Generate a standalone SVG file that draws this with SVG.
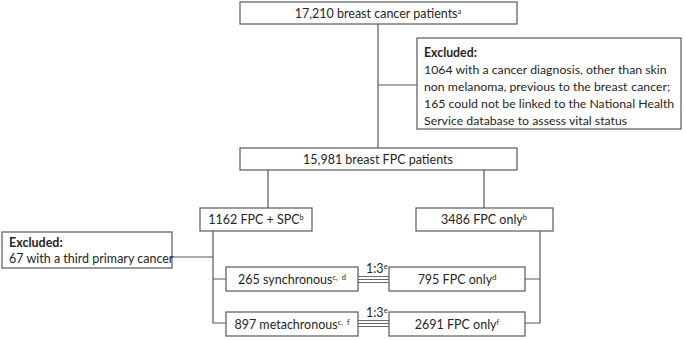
<svg xmlns="http://www.w3.org/2000/svg" width="685" height="340" viewBox="0 0 685 340">
<style>
.box{fill:#fff;stroke:#595959;stroke-width:1.2}
.ln{fill:none;stroke:#595959;stroke-width:1.2}
.dl{fill:none;stroke:#6a6a6a;stroke-width:1}
text{font-family:Lato,"Liberation Sans",sans-serif;font-size:12.5px;fill:#262626}
.c{text-anchor:middle}
.b{font-weight:bold}
.sup{font-size:7.5px}
.ex text{font-size:12.3px}
</style>
<rect width="685" height="340" fill="#fff"/>
<g id="connectors">
<path class="ln" d="M378,24V148M378,85H417"/>
<path class="ln" d="M268,170V208M484,170V208"/>
<path class="ln" d="M213,231V323H226M213,279H226M172,257H213"/>
<path class="ln" d="M540,231V323H525M540,279H525"/>
<path class="dl" d="M358,276.5H389M358,279.5H389M358,282.5H389"/>
<path class="dl" d="M358,320.5H389M358,323.5H389M358,326.5H389"/>
<text x="366" y="273">1:3<tspan class="sup" dy="-4">e</tspan></text>
<text x="366" y="317">1:3<tspan class="sup" dy="-4">e</tspan></text>
</g>
<g id="n1">
<rect class="box" x="240" y="2" width="277" height="22"/>
<text class="c" x="378" y="17.5">17,210 breast cancer patients<tspan class="sup" dy="-4">a</tspan></text>
</g>
<g id="excl1" class="ex">
<rect class="box" x="417" y="38" width="264" height="91"/>
<text x="424" y="56.5" class="b">Excluded:</text>
<text x="424" y="74">1064 with a cancer diagnosis, other than skin</text>
<text x="424" y="91">non melanoma, previous to the breast<tspan dx="4">cancer;</tspan></text>
<text x="424" y="108">165 could not be linked to the National Health</text>
<text x="424" y="125">Service database to assess vital status</text>
</g>
<g id="n2">
<rect class="box" x="240" y="148" width="277" height="22"/>
<text class="c" x="378" y="163.5">15,981 breast FPC patients</text>
</g>
<g id="n3">
<rect class="box" x="200" y="208" width="112" height="23"/>
<text class="c" x="256" y="224">1162 FPC + SPC<tspan class="sup" dy="-4">b</tspan></text>
</g>
<g id="n4">
<rect class="box" x="416" y="208" width="137" height="23"/>
<text class="c" x="484" y="224">3486 FPC only<tspan class="sup" dy="-4">b</tspan></text>
</g>
<g id="excl2">
<rect class="box" x="2" y="232" width="170" height="36"/>
<text x="9" y="247" class="b">Excluded:</text>
<text x="9" y="262.5">67 with a third primary cancer</text>
</g>
<g id="n5">
<rect class="box" x="226" y="267" width="132" height="24"/>
<text class="c" x="292" y="283.5">265 synchronous<tspan class="sup" dy="-4">c,</tspan><tspan class="sup" dx="4">d</tspan></text>
</g>
<g id="n6">
<rect class="box" x="389" y="267" width="136" height="24"/>
<text class="c" x="457" y="283.5">795 FPC only<tspan class="sup" dy="-4">d</tspan></text>
</g>
<g id="n7">
<rect class="box" x="226" y="312" width="132" height="24"/>
<text class="c" x="292" y="328.5">897 metachronous<tspan class="sup" dy="-4">c,</tspan><tspan class="sup" dx="4">f</tspan></text>
</g>
<g id="n8">
<rect class="box" x="389" y="312" width="136" height="24"/>
<text class="c" x="457" y="328.5">2691 FPC only<tspan class="sup" dy="-4">f</tspan></text>
</g>
</svg>
